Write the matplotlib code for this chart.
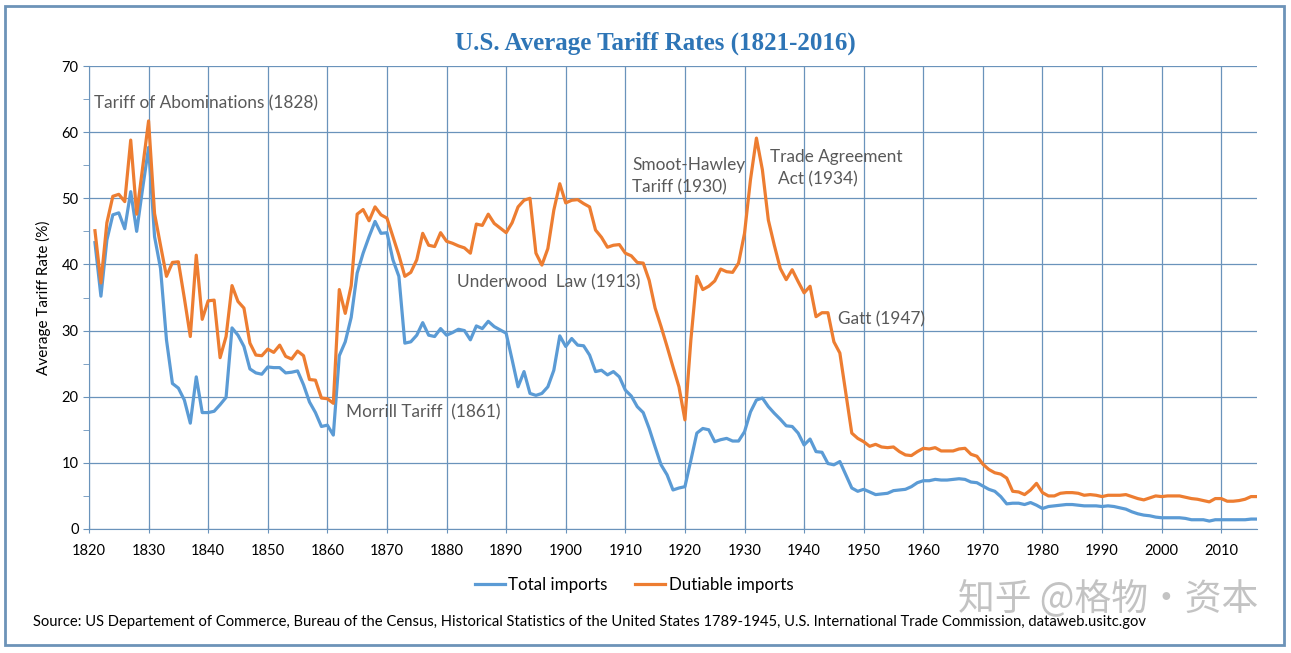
import numpy as np
import matplotlib
matplotlib.use('Agg')
import matplotlib.pyplot as plt
from matplotlib.patches import Rectangle

# US average tariff rates
years = np.arange(1821, 2017)

total_imports = [
    43.3, 35.2, 43.7, 47.5, 47.8, 45.4, 51.0, 45.0, 51.5, 57.7,   # 1821-1830
    44.2, 39.4, 28.6, 22.0, 21.3, 19.5, 16.0, 23.0, 17.6, 17.6,   # 1831-1840
    17.8, 18.8, 19.9, 30.4, 29.3, 27.6, 24.2, 23.6, 23.4, 24.5,   # 1841-1850
    24.4, 24.4, 23.6, 23.7, 23.9, 21.8, 19.2, 17.6, 15.5, 15.7,   # 1851-1860
    14.2, 26.2, 28.3, 32.0, 38.7, 41.7, 44.2, 46.5, 44.7, 44.8,   # 1861-1870
    40.7, 38.2, 28.1, 28.3, 29.3, 31.2, 29.3, 29.1, 30.3, 29.3,   # 1871-1880
    29.7, 30.2, 30.0, 28.6, 30.7, 30.3, 31.4, 30.6, 30.1, 29.6,   # 1881-1890
    25.6, 21.5, 23.8, 20.5, 20.2, 20.5, 21.5, 24.0, 29.2, 27.6,   # 1891-1900
    28.8, 27.8, 27.7, 26.3, 23.8, 24.0, 23.3, 23.8, 23.0, 21.0,   # 1901-1910
    20.1, 18.5, 17.6, 15.2, 12.4, 9.7, 8.2, 5.9, 6.2, 6.4,        # 1911-1920
    10.4, 14.5, 15.2, 15.0, 13.2, 13.5, 13.7, 13.3, 13.3, 14.7,   # 1921-1930
    17.7, 19.5, 19.8, 18.5, 17.5, 16.6, 15.6, 15.5, 14.5, 12.7,   # 1931-1940
    13.6, 11.7, 11.6, 9.9, 9.7, 10.2, 8.2, 6.2, 5.7, 6.0,         # 1941-1950
    5.6, 5.2, 5.3, 5.4, 5.8, 5.9, 6.0, 6.4, 7.0, 7.3,             # 1951-1960
    7.3, 7.5, 7.4, 7.4, 7.5, 7.6, 7.5, 7.1, 7.0, 6.5,             # 1961-1970
    6.0, 5.7, 4.9, 3.8, 3.9, 3.9, 3.7, 4.0, 3.6, 3.1,             # 1971-1980
    3.4, 3.5, 3.6, 3.7, 3.7, 3.6, 3.5, 3.5, 3.5, 3.4,             # 1981-1990
    3.5, 3.4, 3.2, 3.0, 2.6, 2.3, 2.1, 2.0, 1.8, 1.7,             # 1991-2000
    1.7, 1.7, 1.7, 1.6, 1.4, 1.4, 1.4, 1.2, 1.4, 1.4,             # 2001-2010
    1.4, 1.4, 1.4, 1.4, 1.5, 1.5,                                 # 2011-2016
]

dutiable_imports = [
    45.1, 37.2, 46.3, 50.3, 50.6, 49.5, 58.8, 47.6, 54.6, 61.7,   # 1821-1830
    47.7, 42.9, 38.2, 40.3, 40.4, 34.9, 29.1, 41.4, 31.7, 34.5,   # 1831-1840
    34.6, 25.9, 29.1, 36.8, 34.4, 33.4, 28.1, 26.3, 26.2, 27.2,   # 1841-1850
    26.7, 27.8, 26.1, 25.7, 26.9, 26.2, 22.6, 22.5, 19.8, 19.7,   # 1851-1860
    19.0, 36.2, 32.6, 36.8, 47.6, 48.3, 46.6, 48.7, 47.5, 47.0,   # 1861-1870
    44.2, 41.4, 38.2, 38.8, 40.7, 44.7, 42.9, 42.7, 44.8, 43.5,   # 1871-1880
    43.2, 42.8, 42.5, 41.7, 46.1, 45.9, 47.6, 46.2, 45.5, 44.8,   # 1881-1890
    46.3, 48.7, 49.7, 50.0, 41.7, 39.9, 42.4, 48.2, 52.2, 49.3,   # 1891-1900
    49.7, 49.8, 49.2, 48.7, 45.2, 44.1, 42.6, 42.9, 43.0, 41.7,   # 1901-1910
    41.3, 40.3, 40.2, 37.6, 33.4, 30.6, 27.6, 24.5, 21.5, 16.5,   # 1911-1920
    28.6, 38.2, 36.2, 36.7, 37.5, 39.3, 38.9, 38.8, 40.2, 44.7,   # 1921-1930
    52.8, 59.1, 54.3, 46.7, 42.9, 39.4, 37.7, 39.2, 37.4, 35.7,   # 1931-1940
    36.7, 32.1, 32.7, 32.7, 28.3, 26.6, 20.5, 14.5, 13.7, 13.2,   # 1941-1950
    12.5, 12.8, 12.4, 12.3, 12.4, 11.7, 11.2, 11.1, 11.7, 12.2,   # 1951-1960
    12.1, 12.3, 11.8, 11.8, 11.8, 12.1, 12.2, 11.3, 11.0, 9.8,    # 1961-1970
    9.0, 8.5, 8.3, 7.7, 5.7, 5.6, 5.2, 5.9, 6.9, 5.5,             # 1971-1980
    5.0, 5.0, 5.4, 5.5, 5.5, 5.4, 5.1, 5.2, 5.1, 4.9,             # 1981-1990
    5.1, 5.1, 5.1, 5.2, 4.9, 4.6, 4.4, 4.7, 5.0, 4.9,             # 1991-2000
    5.0, 5.0, 5.0, 4.8, 4.6, 4.5, 4.3, 4.1, 4.6, 4.6,             # 2001-2010
    4.2, 4.2, 4.3, 4.5, 4.9, 4.9,                                 # 2011-2016
]

# (text, year, value) -- left aligned labels on the chart
annotations = [
    ("Tariff of Abominations (1828)", 1820.8, 64.4),
    ("Morrill Tariff  (1861)", 1863.2, 17.7),
    ("Underwood  Law (1913)", 1881.8, 37.3),
    ("Smoot-Hawley", 1911.2, 55.0),
    ("Tariff (1930)", 1911.2, 51.6),
    ("Trade Agreement", 1934.3, 56.2),
    ("Act (1934)", 1935.7, 52.8),
    ("Gatt (1947)", 1945.7, 31.7),
]

BLUE = '#5B9BD5'
ORANGE = '#ED7D31'
GRID = '#6a93bb'

plt.rcParams['font.family'] = ['Lato', 'DejaVu Sans']

fig = plt.figure(figsize=(12.91, 6.53), dpi=100)
ax = fig.add_axes([89/1291, 1 - 529/653, (1257-89)/1291, (529-66)/653])

ax.plot(years, total_imports, color=BLUE, lw=2.3, label='Total imports')
ax.plot(years, dutiable_imports, color=ORANGE, lw=2.3, label='Dutiable imports')

ax.set_xlim(1820, 2016)
ax.set_ylim(0, 70)
ax.set_xticks(np.arange(1820, 2011, 10))
ax.set_yticks(np.arange(0, 71, 10))
ax.set_yticks(np.arange(5, 70, 10), minor=True)
ax.grid(True, which='major', color=GRID, lw=0.9)
ax.tick_params(axis='both', which='major', labelsize=10.5, color=GRID, length=4)
ax.tick_params(axis='y', which='minor', color=GRID, length=4)
ax.tick_params(axis='x', direction='inout', length=6, pad=8)
for side in ['top', 'right']:
    ax.spines[side].set_visible(False)
for side in ['left', 'bottom']:
    ax.spines[side].set_color(GRID)

ax.set_ylabel('Average Tariff Rate (%)', fontsize=11)
ax.yaxis.set_label_coords(-0.0325, 0.5)

for text, x, y in annotations:
    ax.text(x, y, text, fontsize=12.4, color='#595959', ha='left', va='center')

fig.text(655/1291, 1 - 43/653, 'U.S. Average Tariff Rates (1821-2016)',
         family='Liberation Serif', fontweight='bold', fontsize=18,
         color='#2E75B6', ha='center', va='center')

fig.legend(loc='center', bbox_to_anchor=(634/1291, 1 - 585/653), ncol=2,
           frameon=False, fontsize=12.2, handlelength=1.8, handletextpad=0.2,
           columnspacing=1.6)

fig.text(33/1291, 1 - 622/653,
         'Source: US Departement of Commerce, Bureau of the Census, Historical Statistics '
         'of the United States 1789-1945, U.S. International Trade Commission, dataweb.usitc.gov',
         fontsize=10.6, ha='left', va='center', color='black')

fig.text(1258/1291, 1 - 600/653, '知乎 @格物·资本', family=['Noto Sans CJK SC', 'DejaVu Sans'],
         fontsize=26.5, color='#bdbdbd', alpha=0.9, ha='right', va='center')

fig.patches.append(Rectangle((5/1291, 8/653), 1279/1291, 639/653, transform=fig.transFigure,
                             fill=False, edgecolor='#6d93b8', lw=2))

fig.savefig('out.png', dpi=100)
